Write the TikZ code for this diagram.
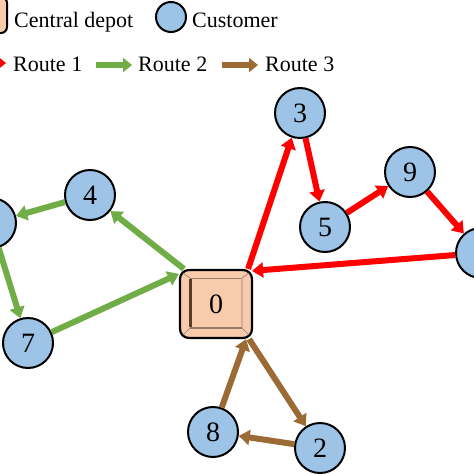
\documentclass[tikz,border=0pt]{standalone}
\usepackage{fontspec}
\setmainfont{Liberation Serif}
\usetikzlibrary{arrows.meta}
\definecolor{custc}{HTML}{9DC3E6}
\definecolor{peach}{HTML}{F8CBAD}
\definecolor{rred}{HTML}{FF0000}
\definecolor{rgreen}{HTML}{70AD47}
\definecolor{rbrown}{HTML}{9C6A35}
\definecolor{bevdark}{HTML}{5A3A28}
\definecolor{bevmid}{HTML}{9A7A66}
\definecolor{bevlight}{HTML}{D2AE96}
\begin{document}
\begin{tikzpicture}[x=1pt,y=-1pt,
  cust/.style={circle,draw=black,line width=2pt,fill=custc,minimum size=50pt,inner sep=0pt,font=\fontsize{28}{28}\selectfont},
  depot/.style={rounded corners=9pt,draw=black,line width=2.2pt,fill=peach,minimum width=72pt,minimum height=68pt,inner sep=0pt,font=\fontsize{28}{28}\selectfont},
  route/.style={line width=6pt,-{Triangle[length=11pt,width=15pt]}},
  legroute/.style={line width=6.5pt,-{Triangle[length=9pt,width=14pt]}},
  lbl/.style={anchor=base west,inner sep=0pt,font=\fontsize{22}{22}\selectfont}]
\useasboundingbox (0,0) rectangle (474,474);
\clip (0,0) rectangle (474,474);

% legend
\node[depot,minimum width=36pt,minimum height=36pt,rounded corners=6pt,line width=2pt] (ld) at (-11,15) {};
\node[lbl] (lt1) at (14,27) {Central depot};
\node[cust,minimum size=30pt] (lc) at (171,17) {};
\node[lbl] (lt2) at (192,27) {Customer};
\coordinate (a1s) at (-35,63); \coordinate (a1e) at (6,63);
\coordinate (a2s) at (96,65);  \coordinate (a2e) at (132,65);
\coordinate (a3s) at (222,65); \coordinate (a3e) at (258,65);
\draw[legroute,rred] (a1s) -- (a1e);
\draw[legroute,rgreen] (a2s) -- (a2e);
\draw[legroute,rbrown] (a3s) -- (a3e);
\node[lbl] (lr1) at (13,71) {Route 1};
\node[lbl] (lr2) at (138,71) {Route 2};
\node[lbl] (lr3) at (265,71) {Route 3};

% nodes
\node[depot] (d) at (216,304) {0};
\draw[line width=1pt,bevmid] (190,278) -- (242,278);
\draw[line width=1.6pt,bevlight] (242,278) -- (242,328);
\draw[line width=1.8pt,bevmid] (190,328) -- (242,328);
\draw[line width=3pt,bevdark] (190,279) -- (190,327);
\draw[line width=0.6pt,bevmid] (183,273) -- (190,278) (249,273) -- (242,278) (183,335) -- (190,328) (249,335) -- (242,328);

\node[cust] (n3) at (300,113) {3};
\node[cust] (n5) at (325,227) {5};
\node[cust] (n9) at (410,172) {9};
\node[cust] (nR) at (481,253) {};
\node[cust] (n4) at (90,195) {4};
\node[cust] (nL) at (-9,223) {};
\node[cust] (n7) at (28,343) {7};
\node[cust] (n8) at (213,432) {8};
\node[cust] (n2) at (320,448) {2};

% route 1
\draw[route,rred] ([xshift=-5pt]d.north east) -- (n3);
\draw[route,rred] (n3) -- (n5);
\draw[route,rred] (n5) -- (n9);
\draw[route,rred] (n9) -- (nR);
\draw[route,rred] (nR) -- ([xshift=-1pt,yshift=-2pt]d.north east);
% route 2
\draw[route,rgreen] ([xshift=5pt]d.north west) -- (n4);
\draw[route,rgreen] (n4) -- (nL);
\draw[route,rgreen] (nL) -- (n7);
\draw[route,rgreen] (n7) -- ([yshift=-5pt]d.north west);
% route 3
\draw[route,rbrown] ([xshift=-4pt]d.south east) -- (n2);
\draw[route,rbrown] (n2) -- (n8);
\draw[route,rbrown] (n8) -- ([xshift=-7pt]d.south east);
\end{tikzpicture}
\end{document}
